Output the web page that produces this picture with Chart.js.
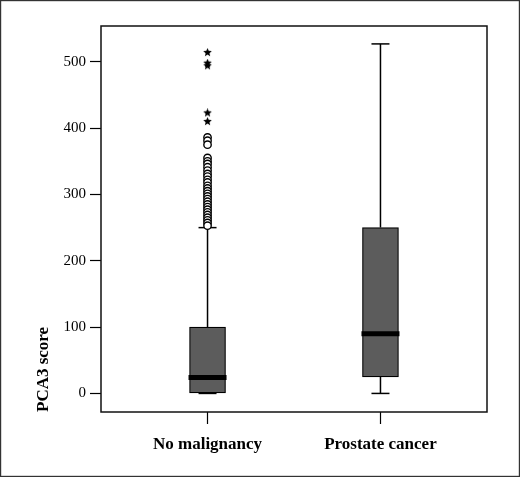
<!DOCTYPE html>
<html>
<head>
<meta charset="utf-8">
<script src="https://cdn.jsdelivr.net/npm/chart.js@4.4.1/dist/chart.umd.min.js"></script>
<style>
  html, body { margin: 0; padding: 0; background: #fff; }
  #wrap { position: relative; width: 520px; height: 477px; }
</style>
</head>
<body>
<div id="wrap"><canvas id="chart" width="520" height="477"></canvas></div>
<script>
// box plot summary
const categories = ['No malignancy', 'Prostate cancer'];
const whiskerLow = [0, 0];
const q1 = [0, 25];
const median = [24, 90];
const q3 = [100, 250];
const whiskerHigh = [250, 527];

// outliers (No malignancy only)
const circleOutliers = [386, 381, 375, 355, 350, 346, 341, 336, 331, 327, 322, 318,
  313, 309, 305, 301, 297, 293, 289, 285, 281, 277, 273, 269, 265, 261, 257, 253];
const starOutliers = [514, 498, 494, 423, 410];

const yTicks = [0, 100, 200, 300, 400, 500];

const serif = "'Liberation Serif', 'Times New Roman', serif";

// small filled 5-point star used as point style
function makeStar(size) {
  const c = document.createElement('canvas');
  c.width = size; c.height = size;
  const g = c.getContext('2d');
  const cx = size / 2, cy = size / 2, ro = size / 2, ri = ro * 0.45;
  g.beginPath();
  for (let i = 0; i < 10; i++) {
    const r = i % 2 === 0 ? ro : ri;
    const a = -Math.PI / 2 + i * Math.PI / 5;
    g.lineTo(cx + r * Math.cos(a), cy + r * Math.sin(a));
  }
  g.closePath();
  g.fillStyle = '#000';
  g.fill();
  return c;
}
const starImg = makeStar(9);

const xs = categories.map((_, i) => i + 1);

// whisker segments, split with null points
const whiskerData = [];
xs.forEach((x, i) => {
  whiskerData.push({ x, y: q3[i] }, { x, y: whiskerHigh[i] }, { x, y: null });
  whiskerData.push({ x, y: whiskerLow[i] }, { x, y: q1[i] }, { x, y: null });
});
const capData = [];
xs.forEach((x, i) => {
  capData.push({ x, y: whiskerHigh[i] }, { x, y: whiskerLow[i] });
});

const frame = {
  id: 'frame',
  afterDraw(chart) {
    const { ctx, chartArea: a } = chart;
    ctx.save();
    ctx.strokeStyle = '#111';
    ctx.lineWidth = 1.5;
    ctx.strokeRect(a.left, a.top, a.right - a.left, a.bottom - a.top);
    ctx.strokeStyle = '#333';
    ctx.lineWidth = 1.2;
    ctx.strokeRect(0.6, 0.6, chart.width - 1.2, chart.height - 1.2);
    ctx.restore();
  }
};

new Chart(document.getElementById('chart'), {
  type: 'bar',
  data: {
    datasets: [
      {
        type: 'line',
        data: median.map((m, i) => ({ x: xs[i], y: m })),
        showLine: false,
        pointStyle: 'line',
        pointRadius: 19,
        pointBorderWidth: 5,
        pointBorderColor: '#000',
        order: 0
      },
      {
        type: 'line',
        data: starOutliers.map(v => ({ x: 1, y: v })),
        showLine: false,
        pointStyle: starImg,
        order: 1
      },
      {
        type: 'line',
        data: circleOutliers.map(v => ({ x: 1, y: v })),
        showLine: false,
        pointStyle: 'circle',
        pointRadius: 3.7,
        pointBackgroundColor: '#fff',
        pointBorderColor: '#000',
        pointBorderWidth: 1.4,
        order: 1
      },
      {
        type: 'line',
        data: capData,
        showLine: false,
        pointStyle: 'line',
        pointRadius: 9,
        pointBorderWidth: 1.5,
        pointBorderColor: '#000',
        order: 2
      },
      {
        type: 'line',
        data: whiskerData,
        borderColor: '#000',
        borderWidth: 1.5,
        pointRadius: 0,
        spanGaps: false,
        order: 3
      },
      {
        type: 'bar',
        data: xs.map((x, i) => ({ x, y: [q1[i], q3[i]] })),
        backgroundColor: '#5c5c5c',
        borderColor: '#000',
        borderWidth: 1.2,
        borderSkipped: false,
        barThickness: 36,
        order: 4
      }
    ]
  },
  options: {
    responsive: false,
    animation: false,
    events: [],
    layout: { padding: { left: 0, top: 26, right: 33, bottom: 0 } },
    plugins: { legend: { display: false }, tooltip: { enabled: false } },
    scales: {
      x: {
        type: 'linear',
        offset: false,
        min: 0.384,
        max: 2.616,
        afterBuildTicks: s => { s.ticks = xs.map(v => ({ value: v })); },
        afterFit: s => { s.height = 65; },
        grid: { offset: false, drawOnChartArea: false, tickLength: 12, tickColor: '#000', tickWidth: 1.2 },
        border: { display: false },
        ticks: {
          callback: v => categories[v - 1],
          color: '#000',
          padding: 10,
          maxRotation: 0,
          autoSkip: false,
          font: { family: serif, size: 17, weight: 'bold' }
        }
      },
      y: {
        type: 'linear',
        min: -28,
        max: 554,
        afterBuildTicks: s => { s.ticks = yTicks.map(v => ({ value: v })); },
        afterFit: s => { s.width = 101; },
        grid: { drawOnChartArea: false, tickLength: 11, tickColor: '#000', tickWidth: 1.2 },
        border: { display: false },
        ticks: {
          color: '#000',
          padding: 4,
          font: { family: serif, size: 15 }
        },
        title: {
          display: true,
          text: 'PCA3 score',
          align: 'start',
          color: '#000',
          padding: { top: 33, bottom: 0 },
          font: { family: serif, size: 17, weight: 'bold' }
        }
      }
    }
  },
  plugins: [frame]
});
</script>
</body>
</html>
